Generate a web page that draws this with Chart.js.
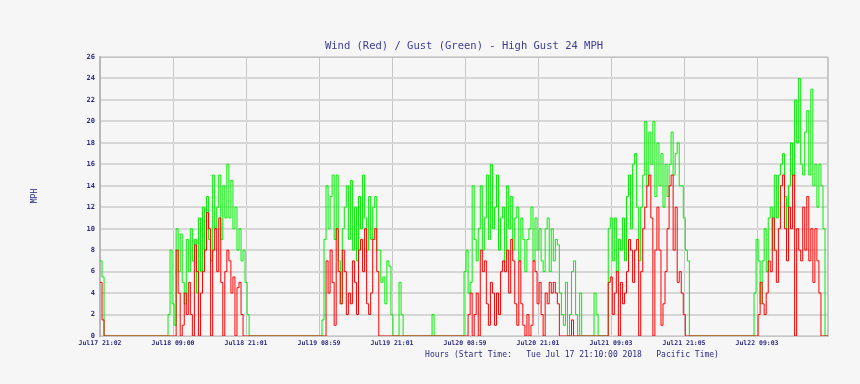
<!DOCTYPE html>
<html>
<head>
<meta charset="utf-8">
<script src="https://cdn.jsdelivr.net/npm/chart.js@4/dist/chart.umd.min.js"></script>
<style>
  html, body { margin: 0; padding: 0; background: #f6f6f6; }
  #c { display: block; }
</style>
</head>
<body>
<canvas id="c" width="860" height="384"></canvas>
<script>
// ---- data (hours since Jul17 21:02, samples every 20 minutes) ----
const tickLabels = ['Jul17 21:02','Jul18 09:00','Jul18 21:01','Jul19 08:59','Jul19 21:01','Jul20 08:59','Jul20 21:01','Jul21 09:03','Jul21 21:05','Jul22 09:03'];
const tickHours = [0, 12, 24, 36, 48, 60, 72, 84, 96, 108];
const totalHours = 119.67;
const sampleStep = 1 / 3;

const segmentStarts = [0, 10.85, 36.16, 54.25, 59.51, 80.88, 107.18];

const gustJul17 = [7, 5.5, 0];
const windJul17 = [5, 1.5, 0];

const gustJul18 = [0,2,8,3,1, 10,6,9.5,5,3, 9,6,10,7,9, 4,11,6,12,8, 13,9,7,15,10, 12,15,9,14,11, 16,11,14.5,10,12, 8,10,7,8,5, 2,0];
const windJul18 = [0,0,0,0,0, 8,4,0,1,4, 2,5,2,0,8.5, 6,0,4,6,8, 11.5,10,0,8,10, 6,11,5,0,6, 8,7,4,5.5,0, 4.5,5,2,0,0, 0,0];

const gustJul19 = [0,1.5,9,14,10, 13,15,9,15,7, 3,10,12,14,9, 14.5,8,12,7,13, 10,15,11,8,13, 9,12,13,8,8, 5,5.5,3,7,6.5, 2,0,0,0,5, 2,0];
const windJul19 = [0,0,0,7,4, 8,5,1,10,6, 3,8,6,2,4, 3,7,5,2,8, 9,6,10,3,2, 4,9,10,6,0, 0,0,0,0,0, 0,0,0,0,0, 0,0];

const gustJul19Night = [0, 2, 0];
const windJul19Night = [0, 0, 0];

const gustJul20 = [0,6,8,4,5, 14,9,7,10,14, 8,11,15,9,16, 10,12,15,8,11, 12,7,14,10,13, 8,11,12,7,11, 9,6,9,10,12, 7,11,8,10,7, 6,10,11,6,10, 7,9,8.5,4,2, 1,5,0,2,6, 7,2,0,4,0];
const windJul20 = [0,0,0,2,4, 0,2,4,0,8, 6,7,3,1,5, 4,1,4,2,6, 7,6,8,4,9, 7,3,1,7,3, 1,0,2,0,1, 7,6,3,5,2, 0,4,3,5,4, 5,4,3,0,0, 0,0,0,0,1.5, 0,0,0,0,0];

const gustJul21 = [0,4,2,0,0, 0,0,0,10,11, 7,11,6,9,8, 11,7,13,15,10, 16,17,12,7,12, 15,20,14,19,16, 20,13,18,14,17, 12,16,13,16,19, 15,17,18,14,14, 11,8,7,0];
const windJul21 = [0,0,0,0,0, 0,0,0,5,5.5, 2,4,6,0,5, 3,4,6,9,8, 5,8,9,0,6, 10,12,14,15,11, 0,8,12,8,1, 3,6,10,14,15, 8,12,5,6,4, 2,0,0,0];

const gustJul22 = [0,4,9,7,3, 7,10,6,11,12, 8,15,11,15,16, 17,13,10,14,18, 15,22,18,24,16, 15,19,21,15,23, 14,16,12,16,14, 10,0];
const windJul22 = [0,0,0,2,5, 3,2,4,7,6, 11,8,5,10,14, 15,10,7,12,10, 15,0,10,8,7, 12,8,13,7,10, 5,10,7,4,0, 0,0];

const gustSegments = [gustJul17, gustJul18, gustJul19, gustJul19Night, gustJul20, gustJul21, gustJul22];
const windSegments = [windJul17, windJul18, windJul19, windJul19Night, windJul20, windJul21, windJul22];

function buildPoints(segments) {
  const pts = [];
  segments.forEach((seg, s) => {
    seg.forEach((v, i) => pts.push({ x: segmentStarts[s] + i * sampleStep, y: v }));
  });
  pts.push({ x: totalHours, y: 0 });
  return pts;
}

const textColor = '#2a2a86';
const mono = "'DejaVu Sans Mono', 'Liberation Mono', monospace";

const textPlugin = {
  id: 'texts',
  beforeDraw(chart) {
    const ctx = chart.ctx;
    ctx.save();
    ctx.fillStyle = '#f6f6f6';
    ctx.fillRect(0, 0, chart.width, chart.height);
    ctx.restore();
  },
  beforeDatasetsDraw(chart) {
    const ctx = chart.ctx, a = chart.chartArea;
    ctx.save();
    ctx.strokeStyle = '#c4c4c4';
    ctx.lineWidth = 1;
    ctx.beginPath();
    ctx.moveTo(a.left, a.top + 0.5); ctx.lineTo(a.right, a.top + 0.5);
    ctx.stroke();
    ctx.lineWidth = 2;
    ctx.strokeStyle = '#c8c8c8';
    ctx.beginPath();
    ctx.moveTo(a.right, a.top); ctx.lineTo(a.right, a.bottom);
    ctx.stroke();
    ctx.restore();
  },
  afterDraw(chart) {
    const ctx = chart.ctx, a = chart.chartArea;
    ctx.save();
    ctx.fillStyle = '#3c3c98';
    ctx.textAlign = 'center';
    ctx.textBaseline = 'middle';
    ctx.font = '10.5px ' + mono;
    ctx.fillText('Wind (Red) / Gust (Green) - High Gust 24 MPH', (a.left + a.right) / 2, 46);
    ctx.fillStyle = textColor;
    ctx.font = '8px ' + mono;
    ctx.fillText('Hours (Start Time:   Tue Jul 17 21:10:00 2018   Pacific Time)', 572, 355);
    ctx.translate(35, 196);
    ctx.rotate(-Math.PI / 2);
    ctx.fillText('MPH', 0, 0);
    ctx.restore();
  }
};

new Chart(document.getElementById('c'), {
  type: 'line',
  data: {
    datasets: [
      {
        label: 'Wind',
        data: buildPoints(windSegments),
        borderColor: '#ff0000',
        borderWidth: 1,
        pointRadius: 0,
        stepped: true,
        fill: false
      },
      {
        label: 'Gust',
        data: buildPoints(gustSegments),
        borderColor: '#00f000',
        borderWidth: 1,
        pointRadius: 0,
        stepped: true,
        fill: false
      }
    ]
  },
  options: {
    responsive: false,
    animation: false,
    devicePixelRatio: 1,
    layout: { padding: { left: 0, right: 32, top: 57, bottom: 0 } },
    plugins: {
      legend: { display: false },
      title: { display: false },
      tooltip: { enabled: false }
    },
    scales: {
      x: {
        type: 'linear',
        min: 0,
        max: totalHours,
        afterBuildTicks(scale) {
          scale.ticks = tickHours.map(v => ({ value: v }));
        },
        afterFit(scale) { scale.height = 48; },
        ticks: {
          autoSkip: false,
          maxRotation: 0,
          padding: 3,
          color: textColor,
          font: { family: mono, size: 6.5, weight: 'bold' },
          callback(value) {
            const i = tickHours.indexOf(value);
            return i >= 0 ? tickLabels[i] : '';
          }
        },
        grid: { color: '#c6c6c6', lineWidth: 1, drawTicks: false },
        border: { color: '#c6c6c6', width: 1 }
      },
      y: {
        min: 0,
        max: 26,
        afterFit(scale) { scale.width = 100; },
        ticks: {
          stepSize: 2,
          padding: 5,
          color: textColor,
          font: { family: mono, size: 7, weight: 'bold' }
        },
        grid: { color: '#d6d6d6', lineWidth: 2, drawTicks: false },
        border: { color: '#b8b8b8', width: 2 }
      }
    }
  },
  plugins: [textPlugin]
});
</script>
</body>
</html>
